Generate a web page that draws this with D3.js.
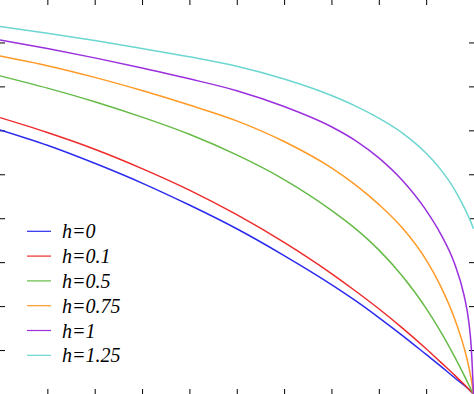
<!DOCTYPE html>
<html>
<head>
<meta charset="utf-8">
<script src="https://cdn.jsdelivr.net/npm/d3@7"></script>
<style>
  body { margin: 0; background: #fff; }
  svg { display: block; }
  .tick line { stroke: #000; stroke-width: 1; }
  .legend text { font-family: "Liberation Serif", "DejaVu Serif", serif; font-style: italic; font-size: 20px; }
</style>
</head>
<body>
<svg id="chart"></svg>
<script>
// shared x grid and one y array per curve
const xs = [0, 0.1, 0.2, 0.3, 0.4, 0.5, 0.6, 0.7, 0.75, 0.8, 0.85, 0.9, 0.93, 0.96, 0.98, 0.99, 0.995, 1];

const h0   = [0.601, 0.566, 0.525, 0.480, 0.430, 0.376, 0.315, 0.249, 0.213, 0.174, 0.133, 0.090, 0.064, 0.037, 0.020, 0.011, 0.005, 0];
const h01  = [0.629, 0.595, 0.557, 0.513, 0.464, 0.408, 0.345, 0.274, 0.235, 0.194, 0.150, 0.103, 0.073, 0.043, 0.022, 0.011, 0.0055, 0];
const h05  = [0.724, 0.696, 0.665, 0.630, 0.591, 0.544, 0.488, 0.418, 0.377, 0.328, 0.268, 0.195, 0.143, 0.085, 0.043, 0.021, 0.010, 0];
const h075 = [0.769, 0.747, 0.7205, 0.6905, 0.6575, 0.6215, 0.5745, 0.5145, 0.4765, 0.4315, 0.3775, 0.305, 0.2465, 0.1715, 0.1055, 0.0625, 0.035, 0];
const h1   = [0.8056, 0.7861, 0.7649, 0.7417, 0.7172, 0.6902, 0.6542, 0.6082, 0.5772, 0.5372, 0.4857, 0.4177, 0.3657, 0.2967, 0.2247, 0.1647, 0.110, 0];
const h125 = [0.8362, 0.8207, 0.8042, 0.7862, 0.7672, 0.7457, 0.7167, 0.6792, 0.6557, 0.6277, 0.5937, 0.5477, 0.5117, 0.4652, 0.4252, 0.4022, 0.390, 0.376];

const labels = ["h=0", "h=0.1", "h=0.5", "h=0.75", "h=1", "h=1.25"];
const colors = ["#2b2bee", "#ee2b2b", "#66bb47", "#ff9a26", "#9a30dd", "#6cd6d0"];

const xTicks = [0.1, 0.2, 0.3, 0.4, 0.5, 0.6, 0.7, 0.8, 0.9];
const yTicks = [0.1, 0.2, 0.3, 0.4, 0.5, 0.6, 0.7, 0.8];

const series = [h0, h01, h05, h075, h1, h125];

const width = 474, height = 394;
const svg = d3.select("#chart").attr("width", width).attr("height", height);

const x = d3.scaleLinear().domain([0, 1]).range([0, 473.5]);
const y = d3.scaleLinear().domain([0, 0.9]).range([394, -1.5]);

// inward ticks on all four sides, no labels
svg.append("g")
    .call(d3.axisTop(x).tickValues(xTicks).tickSize(-5).tickFormat(""))
    .call(g => g.select(".domain").remove());
svg.append("g")
    .attr("transform", "translate(0," + height + ")")
    .call(d3.axisBottom(x).tickValues(xTicks).tickSize(-5).tickFormat(""))
    .call(g => g.select(".domain").remove());
svg.append("g")
    .call(d3.axisLeft(y).tickValues(yTicks).tickSize(-5).tickFormat(""))
    .call(g => g.select(".domain").remove());
svg.append("g")
    .attr("transform", "translate(" + width + ",0)")
    .call(d3.axisRight(y).tickValues(yTicks).tickSize(-5).tickFormat(""))
    .call(g => g.select(".domain").remove());

const line = d3.line()
    .x((d, i) => x(xs[i]))
    .y(d => y(d))
    .curve(d3.curveMonotoneX);

svg.append("g").selectAll("path")
    .data(series)
    .enter().append("path")
    .attr("fill", "none")
    .attr("stroke", (d, i) => colors[i])
    .attr("stroke-width", 1.5)
    .attr("d", line);

// legend
const ly = d3.scaleLinear().domain([0, labels.length - 1]).range([231.3, 355.3]);
const legend = svg.append("g").attr("class", "legend");
const item = legend.selectAll("g")
    .data(labels)
    .enter().append("g")
    .attr("transform", (d, i) => "translate(0," + ly(i) + ")");
item.append("line")
    .attr("x1", 27).attr("x2", 51)
    .attr("stroke", (d, i) => colors[i])
    .attr("stroke-width", 1.2);
item.append("text")
    .attr("x", 62)
    .attr("dy", "0.35em")
    .text(d => d);
</script>
</body>
</html>
